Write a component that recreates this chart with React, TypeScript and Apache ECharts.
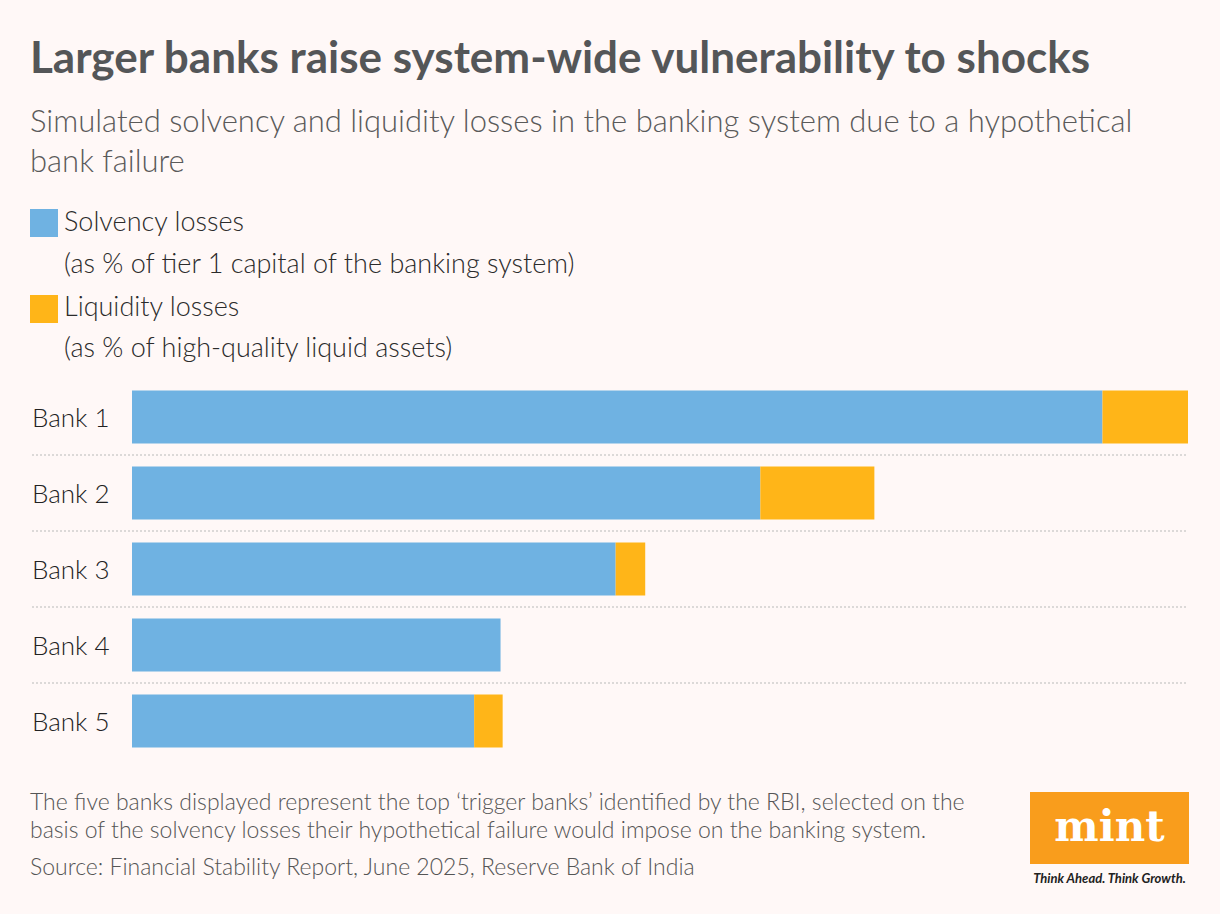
import React, { useEffect, useRef } from "react";
import * as echarts from "echarts";

const categories = ["Bank 1", "Bank 2", "Bank 3", "Bank 4", "Bank 5"];
const solvencyLosses = [91.9, 59.5, 45.8, 34.9, 32.4];
const liquidityLosses = [8.1, 10.8, 2.8, 0, 2.7];

const titleText = "Larger banks raise system-wide vulnerability to shocks";
const subtitleLines = [
  "Simulated solvency and liquidity losses in the banking system due to a hypothetical",
  "bank failure",
];
const legendItems = [
  { name: "Solvency losses", note: "(as % of tier 1 capital of the banking system)", color: "#6fb2e2" },
  { name: "Liquidity losses", note: "(as % of high-quality liquid assets)", color: "#ffb518" },
];
const footLines = [
  "The five banks displayed represent the top \u2018trigger banks\u2019 identified by the RBI, selected on the",
  "basis of the solvency losses their hypothetical failure would impose on the banking system.",
];
const sourceText = "Source: Financial Stability Report, June 2025, Reserve Bank of India";

const FONT = "Lato, 'Open Sans', 'Noto Sans', sans-serif";
const BG = "#fff8f7";

export default function App() {
  const ref = useRef<HTMLDivElement>(null);
  useEffect(() => {
    if (!ref.current) return;
    const chart = echarts.init(ref.current, undefined, { renderer: "svg" });
    const graphics: any[] = [
      {
        id: "title", type: "text", x: 30, y: 56,
        style: { text: titleText, fill: "#545658", font: `bold 44px ${FONT}`, verticalAlign: "middle" },
      },
      ...subtitleLines.map((t, i) => ({
        id: "sub" + i, type: "text", x: 30, y: 120 + i * 40,
        style: { text: t, fill: "#5a5a5a", font: `300 31px ${FONT}`, verticalAlign: "middle" },
      })),
      ...legendItems.flatMap((it, i) => [
        { id: "lsq" + i, type: "rect", shape: { x: 30, y: 209 + i * 86, width: 28, height: 28 }, style: { fill: it.color } },
        { id: "lname" + i, type: "text", x: 64, y: 220 + i * 85, style: { text: it.name, fill: "#2b2b2b", font: `300 27px ${FONT}`, verticalAlign: "middle" } },
        { id: "lnote" + i, type: "text", x: 64, y: 262 + i * 84, style: { text: it.note, fill: "#2b2b2b", font: `300 27px ${FONT}`, verticalAlign: "middle" } },
      ]),
      ...footLines.map((t, i) => ({
        id: "foot" + i, type: "text", x: 30, y: 801 + i * 28,
        style: { text: t, fill: "#555555", font: `300 23px ${FONT}`, verticalAlign: "middle" },
      })),
      {
        id: "src", type: "text", x: 30, y: 866,
        style: { text: sourceText, fill: "#555555", font: `300 23px ${FONT}`, verticalAlign: "middle" },
      },
      { id: "logoBox", type: "rect", shape: { x: 1030, y: 792, width: 159, height: 72 }, style: { fill: "#f99d1c" } },
      {
        id: "logoText", type: "text", x: 1109.5, y: 826,
        style: { text: "mint", fill: "#ffffff", font: "bold 42px 'DejaVu Serif', serif", align: "center", verticalAlign: "middle" },
      },
      {
        id: "tagline", type: "text", x: 1109.5, y: 878,
        style: { text: "Think Ahead. Think Growth.", fill: "#222222", font: `italic bold 13px ${FONT}`, align: "center", verticalAlign: "middle" },
      },
    ];
    chart.setOption({
      animation: false,
      backgroundColor: BG,
      grid: { left: 132, right: 32, top: 379, height: 380 },
      xAxis: { type: "value", min: 0, max: 100, show: false },
      yAxis: {
        type: "category",
        inverse: true,
        data: categories,
        axisLine: { show: false },
        axisTick: { show: false },
        splitLine: { show: false },
        axisLabel: {
          color: "#222222", fontSize: 26, fontFamily: FONT, fontWeight: 300,
          align: "left", margin: 100, padding: [0, 0, 5, 0],
        },
      },
      series: [
        {
          name: "Solvency losses", type: "bar", stack: "t", data: solvencyLosses, barWidth: 53,
          itemStyle: { color: legendItems[0].color },
        },
        {
          name: "Liquidity losses", type: "bar", stack: "t", data: liquidityLosses, barWidth: 53,
          itemStyle: { color: legendItems[1].color },
        },
      ],
      graphic: graphics,
    });
    const centers = categories.map((_, i) => chart.convertToPixel({ yAxisIndex: 0 }, i) as number);
    const lines: any[] = [];
    for (let i = 0; i < centers.length - 1; i++) {
      const y = Math.round((centers[i] + centers[i + 1]) / 2);
      lines.push({
        id: "sep" + i, type: "line",
        shape: { x1: 32, y1: y, x2: 1188, y2: y },
        style: { stroke: "#dcd9d8", lineWidth: 2, lineDash: [2, 2] },
        z: 0,
      });
    }
    chart.setOption({ graphic: [...graphics, ...lines] });
    return () => chart.dispose();
  }, []);
  return (
    <div style={{ position: "absolute", left: 0, top: 0, width: 1220, height: 914, background: BG }}>
      <div ref={ref} style={{ width: 1220, height: 914 }} />
    </div>
  );
}
